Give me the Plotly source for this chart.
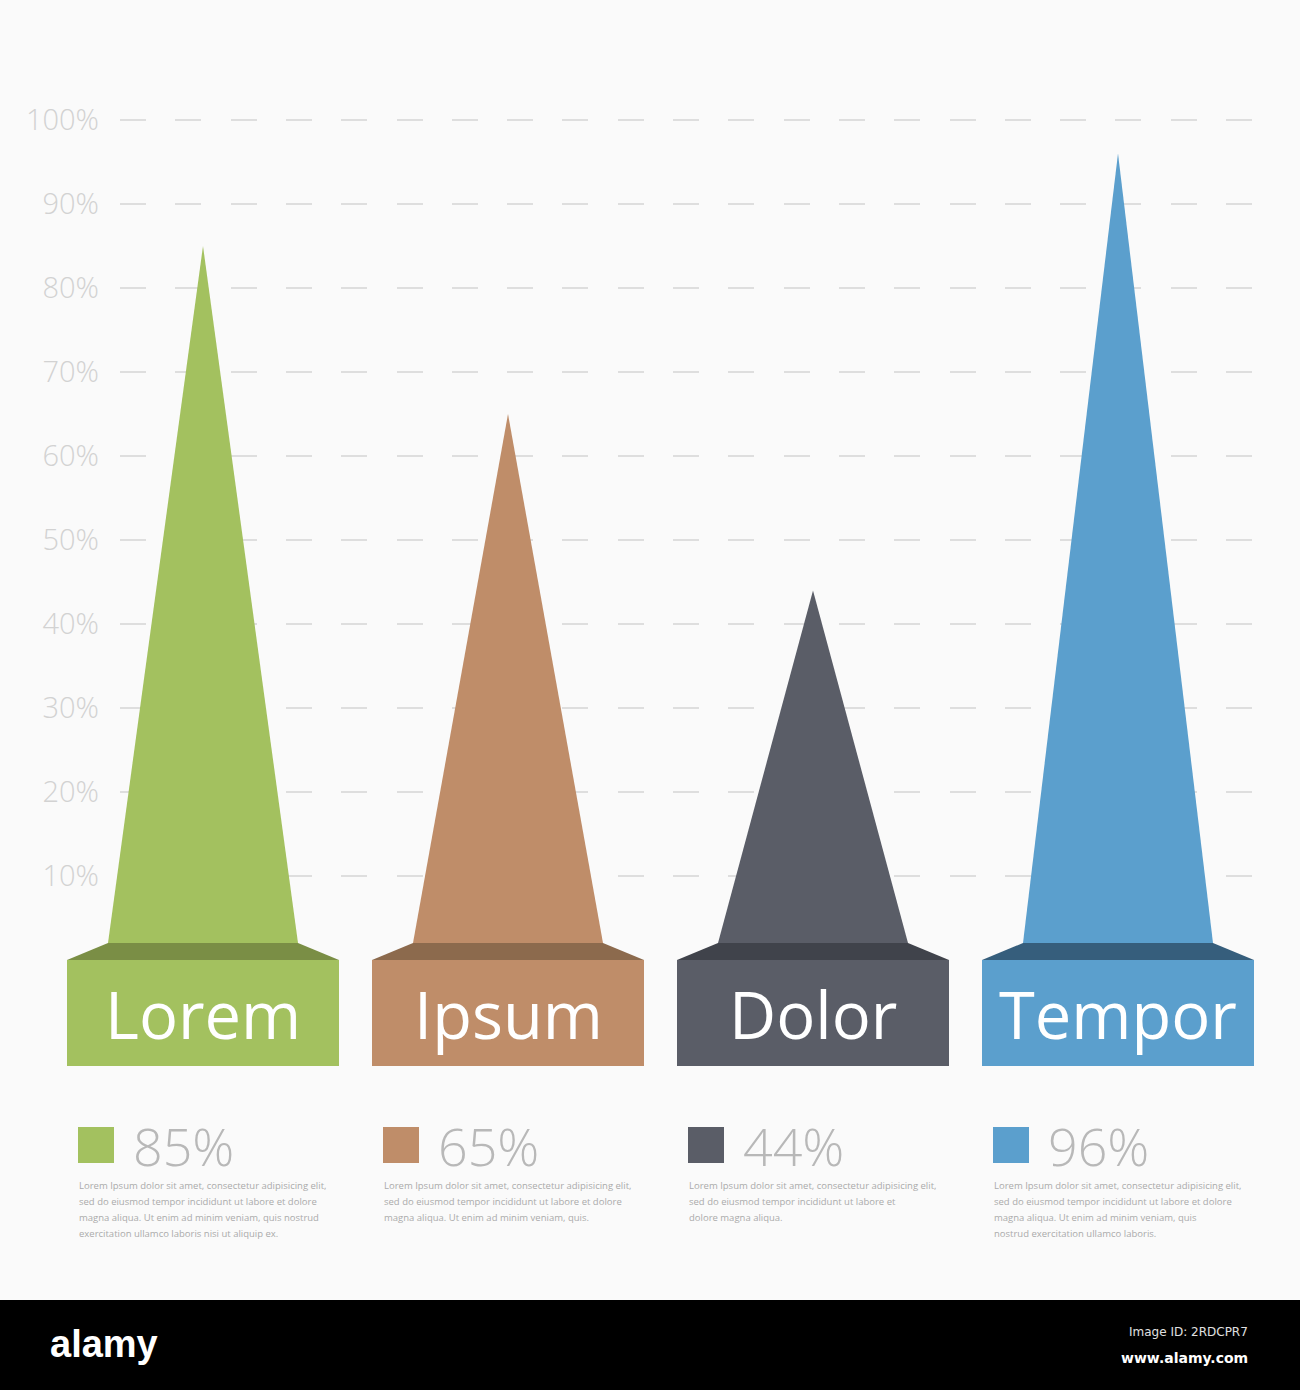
import plotly.graph_objects as go

W, H = 1300, 1390

# chart data
categories = ["Lorem", "Ipsum", "Dolor", "Tempor"]
values = [85, 65, 44, 96]
colors = ["#a3c15f", "#bf8d69", "#5a5d67", "#5b9fcd"]
dark_colors = ["#7a8e45", "#8c6a4d", "#40434b", "#365e7c"]
tick_vals = [10, 20, 30, 40, 50, 60, 70, 80, 90, 100]
tick_text = ["10%", "20%", "30%", "40%", "50%", "60%", "70%", "80%", "90%", "100%"]
descriptions = [
    ["Lorem Ipsum dolor sit amet, consectetur adipisicing elit,",
     "sed do eiusmod tempor incididunt ut labore et dolore",
     "magna aliqua. Ut enim ad minim veniam, quis nostrud",
     "exercitation ullamco laboris nisi ut aliquip ex."],
    ["Lorem Ipsum dolor sit amet, consectetur adipisicing elit,",
     "sed do eiusmod tempor incididunt ut labore et dolore",
     "magna aliqua. Ut enim ad minim veniam, quis."],
    ["Lorem Ipsum dolor sit amet, consectetur adipisicing elit,",
     "sed do eiusmod tempor incididunt ut labore et",
     "dolore magna aliqua."],
    ["Lorem Ipsum dolor sit amet, consectetur adipisicing elit,",
     "sed do eiusmod tempor incididunt ut labore et dolore",
     "magna aliqua. Ut enim ad minim veniam, quis",
     "nostrud exercitation ullamco laboris."],
]

# pixel -> axis mapping: 0% sits at y=960px, 10% every 84px; categories every 305px from x=203px
PX_PER_UNIT = 8.4
CAT_PX = 305.0
X0_PX = 203.0
Y0_PX = 960.0
y_range = [(Y0_PX - H) / PX_PER_UNIT, Y0_PX / PX_PER_UNIT]
x_range = [-X0_PX / CAT_PX, (W - X0_PX) / CAT_PX]


def px_w(p):
    return p / CAT_PX


def px_h(p):
    return p / PX_PER_UNIT


base_y = px_h(17)
half_tri = px_w(95)
half_box = px_w(136)
box_bottom = -px_h(106)

FONT = "Open Sans"

fig = go.Figure()

# invisible trace to hold the grid subplot
fig.add_trace(go.Scatter(x=[0], y=[0], mode="markers", marker={"opacity": 0},
                         hoverinfo="skip", showlegend=False, xaxis="x", yaxis="y"))

shapes = []
annotations = []

for i, (cat, val, col, dcol, desc) in enumerate(zip(categories, values, colors, dark_colors, descriptions)):
    fig.add_trace(
        go.Scatter(
            x=[i - half_tri, i, i + half_tri, i - half_tri],
            y=[base_y, val, base_y, base_y],
            mode="lines",
            fill="toself",
            fillcolor=col,
            line={"width": 0, "color": col},
            hoverinfo="skip",
            showlegend=False,
            xaxis="x2",
            yaxis="y2",
        )
    )
    # darker bevel between spike and label box
    shapes.append(dict(
        type="path", xref="x2", yref="y2",
        path=f"M {i - half_tri},{base_y} L {i + half_tri},{base_y} L {i + half_box},0 L {i - half_box},0 Z",
        fillcolor=dcol, line={"width": 0}, layer="above",
    ))
    shapes.append(dict(
        type="rect", xref="x2", yref="y2",
        x0=i - half_box, x1=i + half_box, y0=box_bottom, y1=0,
        fillcolor=col, line={"width": 0}, layer="above",
    ))
    annotations.append(dict(
        x=i, y=box_bottom / 2 - px_h(1), xref="x2", yref="y2", text=cat, showarrow=False,
        font={"family": FONT, "size": 65, "color": "white"},
    ))
    # legend square + percentage
    shapes.append(dict(
        type="rect", xref="x2", yref="y2",
        x0=i - px_w(125), x1=i - px_w(89), y0=-px_h(167), y1=-px_h(203),
        fillcolor=col, line={"width": 0},
    ))
    annotations.append(dict(
        x=i - px_w(72), y=-px_h(185), xref="x2", yref="y2", text=f"{val}%",
        showarrow=False, xanchor="left", yanchor="middle",
        font={"family": FONT, "size": 52, "color": "#b8b8b8", "weight": 300},
    ))
    for k, line in enumerate(desc):
        annotations.append(dict(
            x=i - px_w(126), y=-px_h(225 + 16 * k), xref="x2", yref="y2", text=line,
            showarrow=False, xanchor="left", yanchor="middle", align="left",
            font={"family": FONT, "size": 9.5, "color": "#aaaaaa"},
        ))

# footer band
shapes.append(dict(type="rect", xref="paper", yref="paper", x0=0, x1=1, y0=0, y1=90 / H,
                   fillcolor="black", line={"width": 0}, layer="above"))
annotations.append(dict(x=48 / W, y=46 / H, xref="paper", yref="paper", text="<b>alamy</b>",
                        showarrow=False, xanchor="left", yanchor="middle",
                        font={"family": "Liberation Sans", "size": 38, "color": "white"}))
annotations.append(dict(x=1250 / W, y=58 / H, xref="paper", yref="paper", text="Image ID: 2RDCPR7",
                        showarrow=False, xanchor="right", yanchor="middle",
                        font={"family": "DejaVu Sans", "size": 12, "color": "#e0e0e0"}))
annotations.append(dict(x=1250 / W, y=32 / H, xref="paper", yref="paper", text="<b>www.alamy.com</b>",
                        showarrow=False, xanchor="right", yanchor="middle",
                        font={"family": "DejaVu Sans", "size": 14, "color": "white"}))

fig.update_layout(
    width=W,
    height=H,
    margin={"l": 0, "r": 0, "t": 0, "b": 0},
    paper_bgcolor="#fafafa",
    plot_bgcolor="rgba(0,0,0,0)",
    showlegend=False,
    shapes=shapes,
    annotations=annotations,
    xaxis={"domain": [120 / W, 1255 / W], "range": [0, 1], "visible": False, "fixedrange": True},
    yaxis={
        "domain": [0, 1], "range": y_range, "anchor": "x",
        "tickvals": tick_vals, "ticktext": tick_text,
        "showgrid": True, "gridcolor": "#dedede", "gridwidth": 2, "griddash": "26px,29.3px",
        "zeroline": False, "showline": False, "ticks": "", "ticklabelstandoff": 20,
        "tickfont": {"family": FONT, "size": 29, "color": "#d2d2d2", "weight": 300},
        "fixedrange": True,
    },
    xaxis2={"domain": [0, 1], "range": x_range, "anchor": "y2", "visible": False, "fixedrange": True},
    yaxis2={"domain": [0, 1], "range": y_range, "anchor": "x2", "visible": False, "fixedrange": True},
)

# drop the browser's default page margin so the figure fills the window
fig.write_html("out.html", config={"displayModeBar": False},
               post_script="document.body.style.margin='0';")
